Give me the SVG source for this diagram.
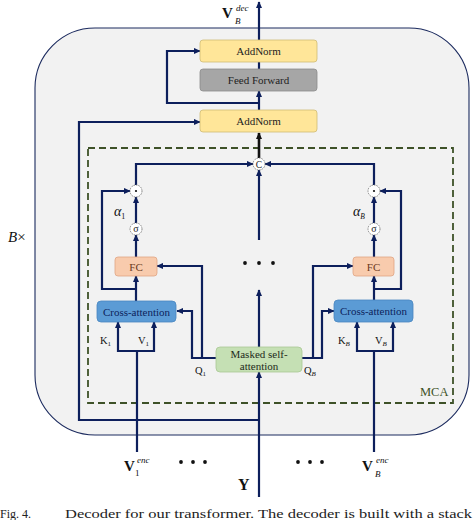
<svg xmlns="http://www.w3.org/2000/svg" width="474" height="520" viewBox="0 0 474 520">
<defs>
<marker id="ah" viewBox="0 0 10 10" refX="9" refY="5" markerWidth="7" markerHeight="7" markerUnits="userSpaceOnUse" orient="auto"><path d="M0,0.5 L10,5 L0,9.5 z" fill="#0d1f5c"/></marker>
<marker id="ahk" viewBox="0 0 10 10" refX="9" refY="5" markerWidth="7" markerHeight="7" markerUnits="userSpaceOnUse" orient="auto"><path d="M0,0.5 L10,5 L0,9.5 z" fill="#111"/></marker>
<style>
.c{fill:none;stroke:#0d1f5c;stroke-width:2.2;}
.a{marker-end:url(#ah);}
.box{font-size:11px;text-anchor:middle;}
.op{fill:#fff;stroke:#777;stroke-width:0.9;stroke-dasharray:1.5 1;}
.lbl{font-size:10.5px;fill:#111;}
.dot{fill:#111;}
</style>
</defs>
<rect width="474" height="520" fill="#fff"/>
<g font-family="'Liberation Serif', 'DejaVu Serif', serif">
<g id="frame">
<rect x="35" y="28" width="434" height="407" rx="60" ry="60" fill="#f2f2f2" stroke="#1b2a5e" stroke-width="1.1"/>
<text x="8" y="242" font-size="15" font-style="italic" fill="#111">B<tspan font-style="normal">×</tspan></text>
</g>
<g id="mca">
<rect x="88" y="148" width="365" height="255" fill="none" stroke="#3e5228" stroke-width="1.8" stroke-dasharray="7 4"/>
<text x="420" y="396" font-size="12.5" fill="#3e5228">MCA</text>
</g>
<g id="connectors">
<path class="c a" d="M259,40 V2"/>
<path class="c" d="M259,69 V62"/>
<path class="c a" d="M259,110 V91"/>
<path class="c a" d="M259,103 H167 V51 H200"/>
<path class="c a" d="M259,420 H79 V122 H200"/>
<path d="M259,158 V133" fill="none" stroke="#111" stroke-width="2.6" marker-end="url(#ahk)"/>
<path class="c a" d="M259,497 V372"/>
<path class="c a" d="M259,347 V290"/>
<path class="c a" d="M259,240 V170"/>
<path class="c a" d="M136,185 V164 H253"/>
<path class="c a" d="M374,185 V164 H265"/>
<path class="c a" d="M136,223 V197"/>
<path class="c a" d="M136,257 V235"/>
<path class="c a" d="M136,301 V276"/>
<path class="c a" d="M136,289 H102 V191 H130"/>
<path class="c a" d="M216,358 H192 V311 H177"/>
<path class="c a" d="M202,358 V266 H157"/>
<path class="c a" d="M137,452 V351 H118 V322"/>
<path class="c a" d="M137,351 H154 V322"/>
<path class="c a" d="M374,223 V197"/>
<path class="c a" d="M374,257 V235"/>
<path class="c a" d="M374,301 V276"/>
<path class="c a" d="M374,289 H401 V191 H380"/>
<path class="c a" d="M302,358 H322 V311 H334"/>
<path class="c a" d="M313,358 V266 H353"/>
<path class="c a" d="M374,452 V351 H357 V322"/>
<path class="c a" d="M374,351 H393 V322"/>
</g>
<g id="addnorm-top">
<rect x="200" y="40" width="117" height="22" rx="3" fill="#ffe699" stroke="#cfbb73" stroke-width="0.8"/>
<text class="box" x="258.5" y="55" fill="#222">AddNorm</text>
</g>
<g id="feed-forward">
<rect x="200" y="69" width="117" height="22" rx="3" fill="#a6a6a6" stroke="#8c8c8c" stroke-width="0.8"/>
<text class="box" x="258.5" y="84" fill="#222">Feed Forward</text>
</g>
<g id="addnorm-bottom">
<rect x="200" y="110" width="117" height="22" rx="3" fill="#ffe699" stroke="#cfbb73" stroke-width="0.8"/>
<text class="box" x="258.5" y="125" fill="#222">AddNorm</text>
</g>
<g id="concat">
<circle class="op" cx="259" cy="164" r="6"/>
<text x="259" y="167.5" font-size="9.5" text-anchor="middle" fill="#222">C</text>
</g>
<g id="mult-1">
<circle class="op" cx="136" cy="191" r="6"/>
<circle cx="136" cy="191" r="1.1" fill="#111"/>
</g>
<g id="sigma-1">
<circle class="op" cx="136" cy="229" r="6"/>
<text x="136" y="232" font-size="10" text-anchor="middle" fill="#222">σ</text>
</g>
<g id="fc-1">
<rect x="115" y="257" width="42" height="19" rx="3" fill="#f8cbad" stroke="#e0a584" stroke-width="0.8"/>
<text class="box" x="136" y="270.5" fill="#6b3a22">FC</text>
</g>
<g id="cross-attention-1">
<rect x="97" y="301" width="79" height="21" rx="4" fill="#5b9bd5" stroke="#4a86c0" stroke-width="0.8"/>
<text class="box" x="136.5" y="315.5" fill="#0d1f5c">Cross-attention</text>
</g>
<g id="mult-B">
<circle class="op" cx="374" cy="191" r="6"/>
<circle cx="374" cy="191" r="1.1" fill="#111"/>
</g>
<g id="sigma-B">
<circle class="op" cx="374" cy="229" r="6"/>
<text x="374" y="232" font-size="10" text-anchor="middle" fill="#222">σ</text>
</g>
<g id="fc-B">
<rect x="353" y="257" width="41" height="19" rx="3" fill="#f8cbad" stroke="#e0a584" stroke-width="0.8"/>
<text class="box" x="373.5" y="270.5" fill="#6b3a22">FC</text>
</g>
<g id="cross-attention-B">
<rect x="334" y="300" width="79" height="22" rx="4" fill="#5b9bd5" stroke="#4a86c0" stroke-width="0.8"/>
<text class="box" x="373.5" y="315" fill="#0d1f5c">Cross-attention</text>
</g>
<g id="masked-self-attention">
<rect x="216" y="347" width="86" height="25" rx="4" fill="#c5e0b4" stroke="#a9c894" stroke-width="0.8"/>
<text class="box" x="259" y="358" fill="#1e2a1a">Masked self-</text>
<text class="box" x="259" y="369.5" fill="#1e2a1a">attention</text>
</g>
<g id="labels">
<text x="114" y="216" font-size="14" font-style="italic" fill="#111">α<tspan font-size="8" font-style="normal" dy="3">1</tspan></text>
<text x="353" y="216" font-size="14" font-style="italic" fill="#111">α<tspan font-size="7.5" dy="3">B</tspan></text>
<text class="lbl" x="100" y="344">K<tspan font-size="7" dy="2">1</tspan></text>
<text class="lbl" x="138" y="344">V<tspan font-size="7" dy="2">1</tspan></text>
<text class="lbl" x="195" y="374">Q<tspan font-size="7" dy="2">1</tspan></text>
<text class="lbl" x="338" y="344">K<tspan font-size="7" font-style="italic" dy="2">B</tspan></text>
<text class="lbl" x="375" y="344">V<tspan font-size="7" font-style="italic" dy="2">B</tspan></text>
<text class="lbl" x="304" y="374">Q<tspan font-size="7" font-style="italic" dy="2">B</tspan></text>
<text x="222" y="18" font-size="15" font-weight="bold" fill="#111">V</text>
<text x="236" y="11" font-size="9" font-style="italic" fill="#111">dec</text>
<text x="235" y="24" font-size="9" font-style="italic" fill="#111">B</text>
<text x="124" y="471" font-size="15" font-weight="bold" fill="#111">V</text>
<text x="137" y="463" font-size="9" font-style="italic" fill="#111">enc</text>
<text x="135" y="476" font-size="9" fill="#111">1</text>
<text x="362" y="471" font-size="15" font-weight="bold" fill="#111">V</text>
<text x="376" y="463" font-size="9" font-style="italic" fill="#111">enc</text>
<text x="375" y="477" font-size="9" font-style="italic" fill="#111">B</text>
<text x="238" y="490" font-size="16" font-weight="bold" fill="#111">Y</text>
<circle class="dot" cx="245" cy="263" r="1.9"/>
<circle class="dot" cx="259" cy="263" r="1.9"/>
<circle class="dot" cx="273" cy="263" r="1.9"/>
<circle class="dot" cx="181" cy="462" r="1.9"/>
<circle class="dot" cx="193" cy="462" r="1.9"/>
<circle class="dot" cx="205" cy="462" r="1.9"/>
<circle class="dot" cx="298" cy="462" r="1.9"/>
<circle class="dot" cx="310" cy="462" r="1.9"/>
<circle class="dot" cx="322" cy="462" r="1.9"/>
</g>
<g id="caption">
<text x="0" y="518" font-size="12" fill="#222">Fig. 4.</text>
<text x="65" y="518" font-size="12" fill="#222" textLength="407" lengthAdjust="spacingAndGlyphs">Decoder for our transformer. The decoder is built with a stack</text>
</g>
</g>
</svg>
